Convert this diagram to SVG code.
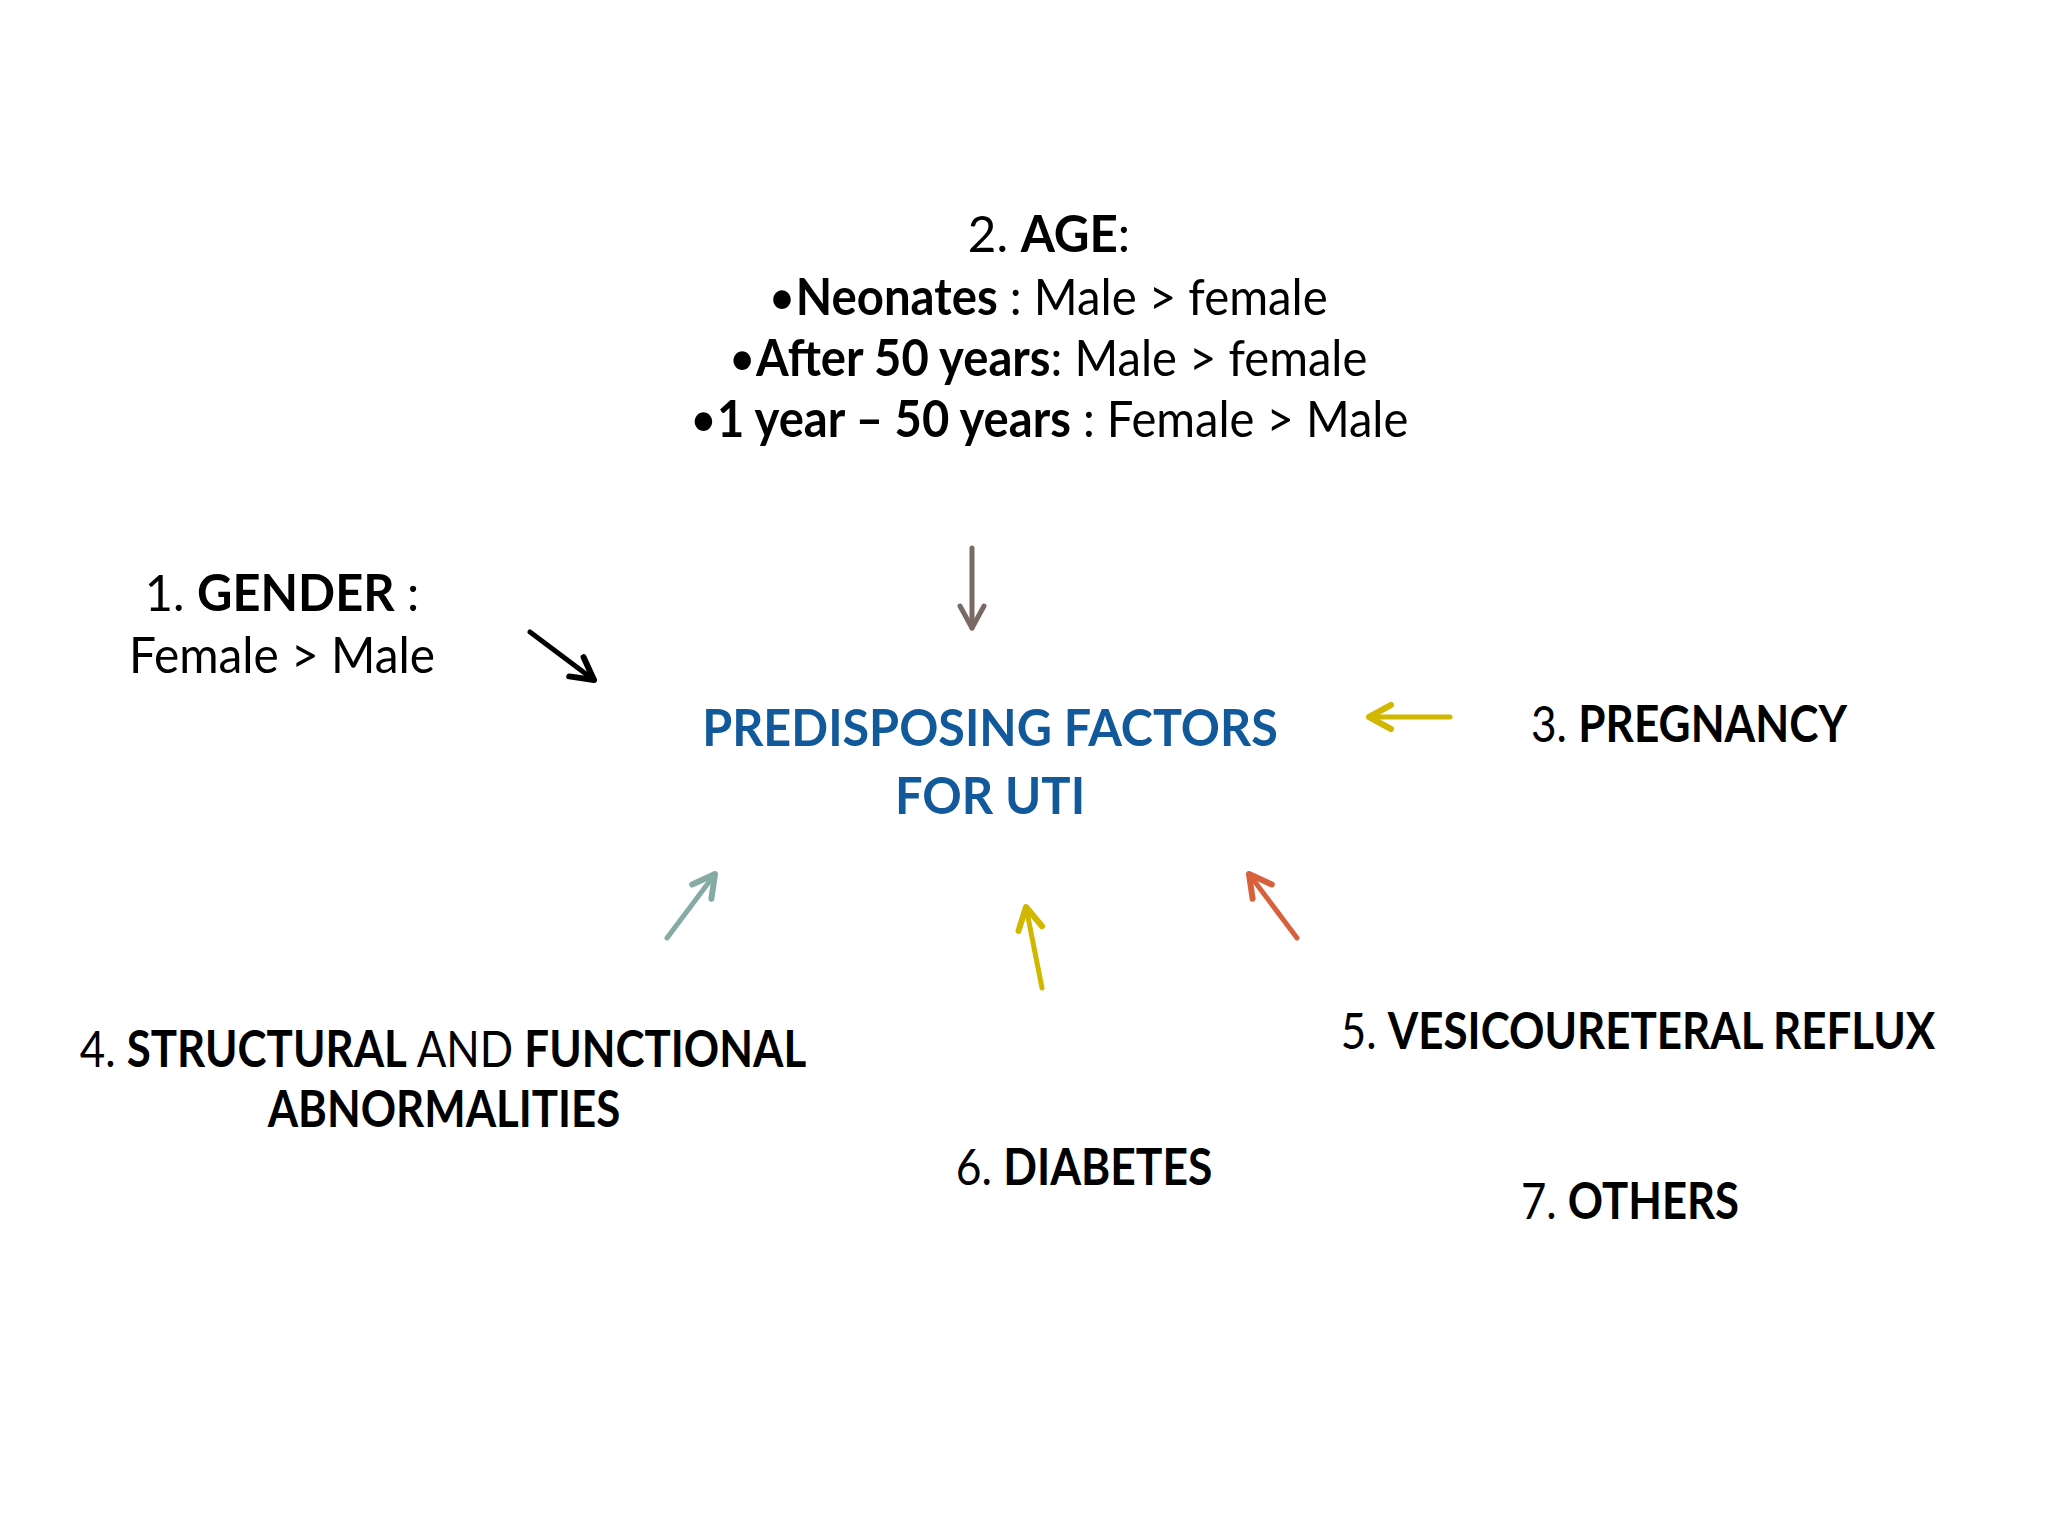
<svg xmlns="http://www.w3.org/2000/svg" width="2048" height="1536" viewBox="0 0 2048 1536">
<style>
text{font-family:Lato,"Noto Sans","DejaVu Sans",sans-serif;font-size:51px;fill:#000;text-anchor:middle}
.b{font-weight:bold}
.title{fill:#12599B;font-weight:bold;font-size:52px}
.arr{fill:none;stroke-width:5;stroke-linecap:round;stroke-linejoin:round}
</style>
<defs>
<marker id="hGray" markerUnits="userSpaceOnUse" viewBox="-30 -16 34 32" refX="0" refY="0" markerWidth="34" markerHeight="32" orient="auto"><path d="M-22,-12 L0,0 L-22,12" fill="none" stroke="#7A6A66" stroke-width="5" stroke-linejoin="round" stroke-linecap="round"/></marker>
<marker id="hBlack" markerUnits="userSpaceOnUse" viewBox="-30 -16 34 32" refX="0" refY="0" markerWidth="34" markerHeight="32" orient="auto"><path d="M-22,-12 L0,0 L-22,12" fill="none" stroke="#000" stroke-width="6" stroke-linejoin="round" stroke-linecap="round"/></marker>
<marker id="hGold" markerUnits="userSpaceOnUse" viewBox="-30 -16 34 32" refX="0" refY="0" markerWidth="34" markerHeight="32" orient="auto"><path d="M-22,-12 L0,0 L-22,12" fill="none" stroke="#D2B700" stroke-width="6" stroke-linejoin="round" stroke-linecap="round"/></marker>
<marker id="hTeal" markerUnits="userSpaceOnUse" viewBox="-30 -16 34 32" refX="0" refY="0" markerWidth="34" markerHeight="32" orient="auto"><path d="M-22,-12 L0,0 L-22,12" fill="none" stroke="#86ABA5" stroke-width="6" stroke-linejoin="round" stroke-linecap="round"/></marker>
<marker id="hRed" markerUnits="userSpaceOnUse" viewBox="-30 -16 34 32" refX="0" refY="0" markerWidth="34" markerHeight="32" orient="auto"><path d="M-22,-12 L0,0 L-22,12" fill="none" stroke="#D9603C" stroke-width="6" stroke-linejoin="round" stroke-linecap="round"/></marker>
</defs>
<rect width="2048" height="1536" fill="#fff"/>
<g id="center">
<text class="title" transform="translate(990,746) scale(0.933,1)">PREDISPOSING FACTORS</text>
<text class="title" transform="translate(990,814) scale(0.94,1)">FOR UTI</text>
</g>
<g id="age">
<text transform="translate(1049,252) scale(0.966,1)">2. <tspan class="b">AGE</tspan>:</text>
<text transform="translate(1048,315) scale(0.928,1)">•<tspan class="b">Neonates</tspan> : Male &gt; female</text>
<text transform="translate(1048,376) scale(0.925,1)">•<tspan class="b">After 50 years</tspan>: Male &gt; female</text>
<text transform="translate(1049,437) scale(0.924,1)">•<tspan class="b">1 year – 50 years</tspan> : Female &gt; Male</text>
</g>
<g id="gender">
<text transform="translate(282,611) scale(0.957,1)">1. <tspan class="b">GENDER</tspan> :</text>
<text transform="translate(282,673) scale(0.938,1)">Female &gt; Male</text>
</g>
<g id="pregnancy">
<text transform="translate(1689,742) scale(0.865,1)">3. <tspan class="b">PREGNANCY</tspan></text>
</g>
<g id="structural">
<text transform="translate(443,1067) scale(0.86,1)">4. <tspan class="b">STRUCTURAL</tspan> AND <tspan class="b">FUNCTIONAL</tspan></text>
<text class="b" transform="translate(444,1127) scale(0.859,1)">ABNORMALITIES</text>
</g>
<g id="vur">
<text transform="translate(1638,1049) scale(0.861,1)">5. <tspan class="b">VESICOURETERAL REFLUX</tspan></text>
</g>
<g id="diabetes">
<text transform="translate(1084,1185) scale(0.87,1)">6. <tspan class="b">DIABETES</tspan></text>
</g>
<g id="others">
<text transform="translate(1630,1219) scale(0.857,1)">7. <tspan class="b">OTHERS</tspan></text>
</g>
<g id="connectors">
<path class="arr" d="M972,548 L972,628" stroke="#7A6A66" marker-end="url(#hGray)"/>
<path class="arr" d="M530,632 L594,680" stroke="#000" stroke-width="6" marker-end="url(#hBlack)"/>
<path class="arr" d="M1450,717 L1369,717" stroke="#D2B700" stroke-width="7" marker-end="url(#hGold)"/>
<path class="arr" d="M667,938 L715,874" stroke="#86ABA5" stroke-width="6" marker-end="url(#hTeal)"/>
<path class="arr" d="M1042,988 L1026,907" stroke="#D2B700" stroke-width="6" marker-end="url(#hGold)"/>
<path class="arr" d="M1297,938 L1249,874" stroke="#D9603C" stroke-width="6" marker-end="url(#hRed)"/>
</g>
</svg>
